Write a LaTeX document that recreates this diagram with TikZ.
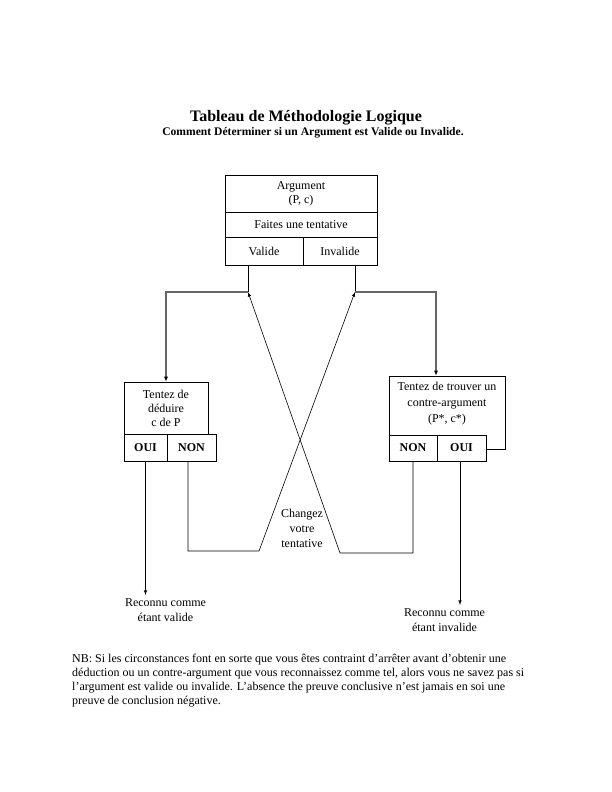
\documentclass[tikz,border=0pt]{standalone}
\usepackage{fontspec}
\setmainfont{Liberation Serif}
\usepackage{tikz}
\tikzset{>=latex}
\usetikzlibrary{arrows.meta, calc}

\tikzset{
    cell/.style = {draw=black, fill=white, line width=0.6pt, inner sep=1pt, align=center, font=\fontsize{12}{14}\selectfont},
    btn/.style  = {cell, font=\fontsize{12}{14}\selectfont\bfseries},
    note/.style = {align=center, font=\fontsize{12}{15}\selectfont},
    link/.style = {line width=0.6pt},
    branch/.style = {line width=1.2pt, draw=black!60, -{Latex[length=5pt, width=4pt, black]}}
}

\begin{document}
\begin{tikzpicture}[x=1pt, y=-1pt]

    \useasboundingbox (0, 0) rectangle (612, 792);

    % titre
    \node[font=\fontsize{16}{18}\selectfont\bfseries] (titre) at (306, 118) {Tableau de Méthodologie Logique};
    \node[font=\fontsize{11.6}{13}\selectfont\bfseries] (soustitre) at (313, 133) {Comment Déterminer si un Argument est Valide ou Invalide.};

    % boite du haut
    \node[cell, minimum width=152, minimum height=37] (arg) at (301, 193.5) {Argument\\(P, c)};
    \node[cell, minimum width=152, minimum height=25] (faites) at (301, 224.5) {Faites une tentative};
    \node[cell, minimum width=78, minimum height=28] (valide) at (264, 251) {Valide};
    \node[cell, minimum width=74, minimum height=28] (invalide) at (340, 251) {Invalide};

    % boite de gauche
    \node[cell, minimum width=84, minimum height=52] (deduire) at (166, 408) {Tentez de\\déduire\\c de P};
    \node[btn, minimum width=43, minimum height=27] (ouil) at (145.5, 447.5) {OUI};
    \node[btn, minimum width=49, minimum height=27] (nonl) at (191.5, 447.5) {NON};

    % boite de droite
    \node[cell, minimum width=116, minimum height=73] (trouver) at (447, 412.5) {};
    \node[note, font=\fontsize{12}{16}\selectfont] (trouvertxt) at (447, 404) {Tentez de trouver un\\contre-argument\\(P*, c*)};
    \node[btn, minimum width=48, minimum height=26] (nonr) at (413, 448) {NON};
    \node[btn, minimum width=49, minimum height=26] (ouir) at (461.5, 448) {OUI};

    % textes libres
    \node[note] (changez) at (302, 528) {Changez\\votre\\tentative};
    \node[note] (recl) at (165.5, 610) {Reconnu comme\\étant valide};
    \node[note] (recr) at (444.5, 620) {Reconnu comme\\étant invalide};

    \coordinate (jl) at (248, 292);
    \coordinate (jr) at (355, 292);

    % liaisons
    \draw[link] ([xshift=-16]valide.south) -- (jl);
    \draw[link] ([xshift=15]invalide.south) -- (jr);
    \draw[branch] (jl) -| (deduire.north);
    \draw[branch] (jr) -| ([xshift=-11]trouver.north);
    \draw[link, ->] ([xshift=-3.5]nonl.south) |- (259, 551) -- (jr);
    \draw[link, ->] (nonr.south) |- (340, 553) -- (jl);
    \draw[link, ->] (ouil.south) -- (ouil.south |- recl.north);
    \draw[link, ->] ([xshift=-1.5]ouir.south) -- ([xshift=-1.5]ouir.south |- recr.north);

    % note
    \node[anchor=north west, align=left, inner sep=0pt, font=\fontsize{12}{14}\selectfont] (nb) at (72, 654)
        {NB: Si les circonstances font en sorte que vous êtes contraint d’arrêter avant d’obtenir une\\
         déduction ou un contre-argument que vous reconnaissez comme tel, alors vous ne savez pas si\\
         l’argument est valide ou invalide. L’absence the preuve conclusive n’est jamais en soi une\\
         preuve de conclusion négative.};

\end{tikzpicture}
\end{document}
